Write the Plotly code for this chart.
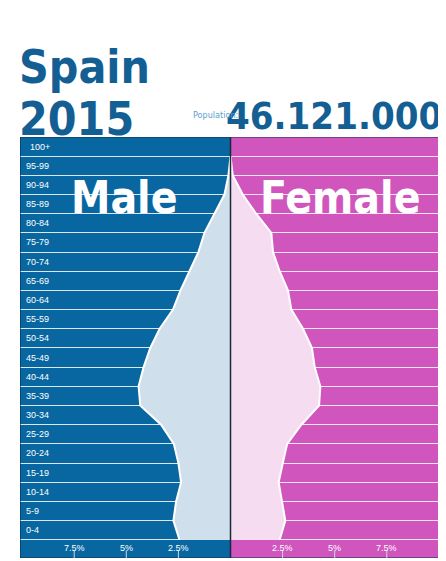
import plotly.graph_objects as go

# age groups bottom -> top
ages = ["0-4", "5-9", "10-14", "15-19", "20-24", "25-29", "30-34", "35-39", "40-44",
        "45-49", "50-54", "55-59", "60-64", "65-69", "70-74", "75-79", "80-84",
        "85-89", "90-94", "95-99", "100+"]

# % of population read at each row boundary, bottom (-0.5) -> top (19.5)
male_pct = [2.45, 2.74, 2.61, 2.37, 2.5, 2.72, 3.33, 4.33, 4.41, 4.17, 3.85, 3.4,
            2.76, 2.4, 1.97, 1.54, 1.25, 0.77, 0.29, 0.1, 0.0]
female_pct = [2.36, 2.63, 2.47, 2.31, 2.51, 2.72, 3.4, 4.25, 4.31, 4.04, 3.91, 3.48,
              2.92, 2.76, 2.36, 2.04, 1.96, 1.23, 0.59, 0.11, 0.0]
tick_vals = [-7.5, -5, -2.5, 2.5, 5, 7.5]
tick_text = ["7.5%", "5%", "2.5%", "2.5%", "5%", "7.5%"]

bounds = [i - 0.5 for i in range(len(male_pct))]
XMAX = 10.1
BLUE = "#0866a0"
PINK = "#d055bd"
TITLE = "#135f94"
NARROW = "DejaVu Sans Condensed, Liberation Sans Narrow, Liberation Sans"

fig = go.Figure()
fig.add_trace(go.Scatter(x=[-v for v in male_pct], y=bounds, fill="tozerox",
                         fillcolor="#cfe0ec", line=dict(color="white", width=2),
                         mode="lines", hoverinfo="skip"))
fig.add_trace(go.Scatter(x=female_pct, y=bounds, fill="tozerox",
                         fillcolor="#f5dcf0", line=dict(color="white", width=2),
                         mode="lines", hoverinfo="skip"))

fig.add_shape(type="rect", x0=-XMAX, x1=0, y0=-1.45, y1=20.5, fillcolor=BLUE,
              line_width=0, layer="below")
fig.add_shape(type="rect", x0=0, x1=XMAX, y0=-1.45, y1=20.5, fillcolor=PINK,
              line_width=0, layer="below")
fig.add_shape(type="line", x0=0, x1=0, y0=-1.45, y1=20.5,
              line=dict(color="#1a2a3a", width=1.5))
fig.add_shape(type="rect", x0=-XMAX, x1=XMAX, y0=-1.45, y1=20.5,
              line=dict(color="#123050", width=1.2))

for tv, tt in zip(tick_vals, tick_text):
    fig.add_annotation(x=tv, y=-0.95, text=tt, showarrow=False,
                       font=dict(color="white", size=9, family="Arial"))
    fig.add_shape(type="line", x0=tv, x1=tv, y0=-1.45, y1=-1.05,
                  line=dict(color="#c8d8e8", width=1))

for i, a in enumerate(ages):
    fig.add_annotation(x=-9.9 if a != "100+" else -9.7, y=i, text=a, showarrow=False,
                       xanchor="left", font=dict(color="white", size=9, family="Arial"))

fig.add_annotation(x=-5.1, y=17.35, text="<b>Male</b>", showarrow=False,
                   font=dict(color="white", size=44, family=NARROW))
fig.add_annotation(x=5.3, y=17.35, text="<b>Female</b>", showarrow=False,
                   font=dict(color="white", size=44, family=NARROW))

def px(x, y):
    return (x - 12) / 421, (550 - y) / 421

for txt, (x, y), size, anchor in [
    ("<b>Spain</b>", (9, 30), 46, "left"),
    ("<b>2015</b>", (9, 82), 46, "left"),
    ("<b>46.121.000</b>", (436, 84), 38, "right"),
]:
    ax, ay = px(x, y)
    fig.add_annotation(xref="paper", yref="paper", x=ax, y=ay, text=txt,
                       showarrow=False, xanchor=anchor,
                       font=dict(color=TITLE, size=size, family=NARROW))
ax, ay = px(232, 100)
fig.add_annotation(xref="paper", yref="paper", x=ax, y=ay, text="Population:",
                   showarrow=False, xanchor="right",
                   font=dict(color="#5b9fcc", size=9, family=NARROW))

fig.update_layout(
    width=446, height=561,
    margin=dict(l=12, r=13, t=129, b=11, autoexpand=False),
    paper_bgcolor="white", plot_bgcolor="white", showlegend=False,
    xaxis=dict(range=[-XMAX, XMAX], showgrid=False, zeroline=False,
               showticklabels=False),
    yaxis=dict(range=[-1.45, 20.5], tickvals=[b for b in bounds] + [19.5],
               showgrid=True, gridcolor="rgba(255,255,255,0.85)", gridwidth=1.2,
               zeroline=False, showticklabels=False),
)
fig.write_html("out.html")
